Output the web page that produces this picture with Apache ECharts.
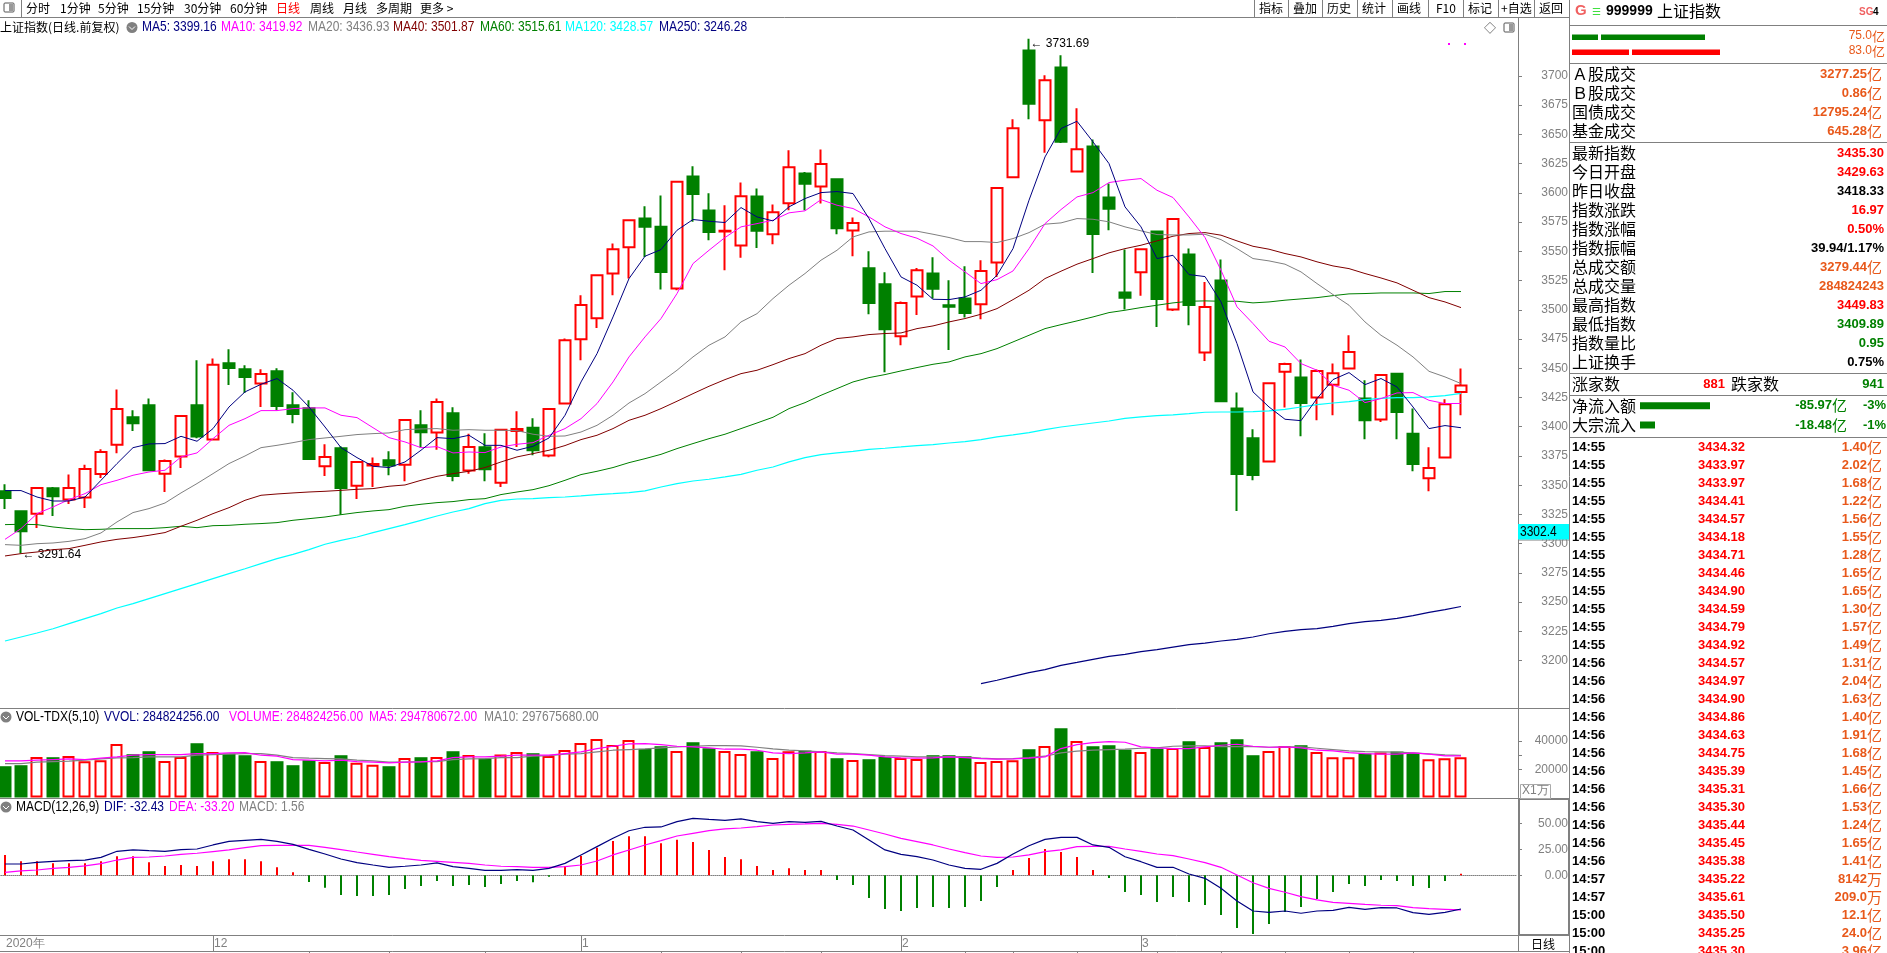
<!DOCTYPE html>
<html>
<head>
<meta charset="utf-8">
<title>上证指数</title>
<style>
html,body{margin:0;padding:0;background:#fff;overflow:hidden}
#chart{width:1887px;height:953px}
</style>
</head>
<body>
<div id="chart"></div>
<script src="https://cdn.jsdelivr.net/npm/echarts@6/dist/echarts.min.js"></script>
<script>
// daily candles
var opens = [3344.8,3327.7,3325.7,3347.4,3337.7,3339.4,3359.6,3384.7,3408.1,3418.4,3359.9,3374.5,3418.4,3389.0,3454.3,3449.1,3436.9,3447.4,3418.4,3415.8,3366.2,3381.6,3349.6,3366.8,3371.3,3367.6,3401.2,3395,3411.5,3362.5,3382.4,3352.2,3396.4,3399.2,3375.3,3419.8,3474.8,3492.8,3531,3553.5,3578,3570.9,3518.1,3613.9,3584.9,3566.9,3554.9,3596.8,3564.6,3591.1,3616.5,3605.4,3611.6,3567.8,3535.5,3521.8,3477.4,3511.3,3531,3503.9,3509.6,3504.7,3540.4,3613.4,3721.7,3662.1,3707.2,3618.2,3639.6,3596,3514.7,3532.1,3566.9,3500.2,3547.2,3463.4,3525,3415.5,3390.1,3370.2,3447.1,3442,3424.9,3436,3449.7,3424.1,3406.1,3445.4,3394.1,3355.9,3373.6,3429.63];
var closes = [3339.1,3310.6,3347.6,3340.5,3347.6,3363.9,3378.4,3415.2,3402.9,3362.8,3370.7,3409.2,3391.6,3452.9,3450.3,3442.6,3445.2,3417.8,3410.9,3372.5,3374.2,3347.6,3369.9,3368.2,3366.8,3405.8,3395.3,3421.2,3357.9,3382.7,3363.6,3397.5,3398.1,3379.9,3415.2,3473.9,3504.2,3529.5,3551.8,3576.6,3570.9,3532.4,3609.4,3599.1,3566.6,3567.5,3597.1,3567.5,3583.4,3621.9,3607.7,3624.7,3569.8,3574.3,3505.9,3483.4,3505.9,3533.8,3517.9,3502.7,3497.3,3533.2,3604.2,3655.3,3676.1,3696.3,3643.6,3637.3,3564.9,3586.3,3510.2,3551.8,3509.3,3577.7,3504.2,3502.4,3421.8,3359.6,3358.8,3437.2,3453.7,3420.3,3447.7,3445.7,3464,3405.5,3444.3,3412.6,3368.2,3364.8,3419.2,3435.3];
var lows = [3329.7,3291.64,3313.4,3323.7,3334,3330.5,3356.2,3377.3,3396.4,3362.2,3344.2,3364.8,3390.1,3388.5,3435.7,3428.9,3416.9,3414.1,3403,3371.9,3357.9,3324.8,3338.2,3348.5,3358.5,3353.4,3382.1,3380.4,3353.4,3359.9,3353.4,3348.5,3382.7,3375.6,3373.9,3419,3456.8,3484.5,3512.4,3526.7,3545.2,3517.3,3516.7,3575.2,3559.5,3533.8,3544.4,3552.9,3556.1,3585.1,3585.1,3590.8,3564.6,3545.8,3496.2,3446.6,3469.7,3495.6,3509.6,3465.7,3493.3,3491.9,3528.1,3613,3663,3634.2,3642.7,3618,3531.5,3568,3500.2,3511.9,3485.3,3499,3486.8,3456.3,3421.2,3327.9,3354.2,3370,3416.4,3391.8,3405.5,3409.8,3449.5,3389.3,3404.1,3389.3,3361.9,3344.8,3373,3409.89];
var highs = [3350.8,3327.7,3348,3348.5,3359.1,3367.6,3380.7,3431.8,3414.1,3424.1,3371.9,3409.5,3456.8,3458.3,3466.3,3452.6,3449.1,3450,3429.5,3422.6,3385,3383.3,3370.7,3373.6,3379,3406,3414.1,3424.1,3416.6,3394.1,3394.4,3398,3413.2,3407.2,3415.5,3475.4,3512.4,3530,3556.6,3577,3588.5,3597.7,3610,3622.8,3599.7,3589.4,3608.8,3603.7,3590,3636.5,3617.8,3637,3612,3578.9,3550.1,3532.1,3507,3535.8,3544.9,3525.3,3537.2,3542.4,3604.5,3663,3731.69,3700.6,3717.7,3672.4,3645.6,3608,3551.5,3552.3,3567,3578,3552.3,3523.8,3542.9,3429.2,3397.8,3437.5,3454.8,3457.4,3448.9,3454,3478.2,3439.7,3444.6,3445.4,3415.5,3382.4,3423.5,3449.83];

// moving averages on the price pane
var ma5 = [3345.4,3345.4,3339.9,3336.5,3336.5,3339.9,3354.2,3368.5,3382.1,3385.3,3385.6,3391.8,3387.6,3398.4,3416.9,3429.8,3436.3,3441.2,3431.2,3416.9,3399.8,3382.1,3373.6,3366.2,3365.1,3369.9,3379.9,3390.7,3389.8,3392.7,3384.1,3384.1,3379.9,3383.3,3390.4,3409.8,3438.3,3462.5,3493.9,3526.7,3545.8,3551.5,3568,3577.2,3575.7,3574.6,3587.4,3579.4,3576,3588,3595.1,3600.2,3601.1,3599.4,3578,3552.3,3528.1,3521,3509,3508.7,3511,3516.7,3529.5,3552.3,3593.7,3630.7,3655,3661.2,3643.6,3625,3588,3570.9,3543.8,3546.6,3530.1,3528.4,3506.7,3471.1,3429.8,3416.9,3406.4,3405.2,3424.1,3440.3,3446.3,3436,3441.2,3434,3416.9,3398.4,3401,3399.16];
var ma10 = [3303.7,3312.9,3325.7,3331.4,3337.7,3342.8,3350.5,3354.2,3358.5,3361.3,3362.8,3374.2,3377.6,3389.8,3401.2,3406.9,3413.8,3413.8,3415.5,3416.1,3416.1,3409.8,3407.8,3399.2,3390.7,3387,3382.1,3383,3377.6,3378.4,3377.9,3382.7,3385,3386.4,3392.7,3398.4,3406.9,3419.8,3438.3,3459.7,3476.8,3492.5,3513.9,3539.5,3550.9,3561.8,3570.9,3573.7,3576.6,3582.9,3584.6,3594.2,3589.4,3586.6,3579.4,3570.9,3565.2,3561.2,3554.6,3542.4,3532.4,3522.4,3525.8,3533.2,3552.3,3573.7,3585.7,3596.5,3600.2,3608.8,3610.8,3612.2,3602.2,3596,3579.4,3561.8,3533.8,3502.5,3488.2,3473.1,3468.2,3454,3448.3,3435.5,3431.2,3420.6,3424.1,3428.9,3429.2,3422.6,3419.8,3419.92];
var ma20 = [3299.2,3298.6,3300,3300.6,3302,3304.3,3309.2,3318.6,3326.6,3330,3334.8,3343.4,3351.4,3359.9,3368.5,3375,3382.1,3384.1,3386.4,3389,3390.4,3391.8,3393.3,3394.1,3394.7,3397.5,3398.1,3398.4,3397,3397.5,3397,3397,3396.7,3393.6,3391.8,3392.1,3395.5,3401.2,3409.8,3420.3,3428.3,3438.3,3448.3,3459.7,3469.7,3476.8,3489.6,3496.7,3509.6,3521,3531,3542.4,3550.9,3562.3,3566.6,3567.2,3567.2,3567.2,3564.6,3561.8,3558.3,3558.3,3557.5,3560.9,3566,3573.2,3574.3,3578,3577.4,3575.2,3570.9,3567.5,3564.3,3564,3564,3564.6,3560,3552.3,3543.8,3541.8,3539,3532.4,3522.4,3513,3503.9,3489.6,3478.2,3469.7,3459.7,3447.4,3442.6,3436.93];
var ma40 = [3289.5,3291.5,3292.9,3294.9,3295.8,3298.6,3301.5,3303.7,3305.2,3307.2,3309.5,3314.9,3320,3325.7,3330.8,3337.1,3341.4,3342.5,3343.4,3344.2,3344.8,3345.6,3346.5,3347.1,3349.1,3350.2,3354.2,3357.6,3359.9,3361.9,3365.1,3369.9,3374.2,3377,3379.9,3383.9,3389,3392.7,3398.4,3405.5,3409.8,3415.5,3421.8,3428.3,3434.6,3440.3,3445.4,3448.3,3453.1,3458.3,3462.5,3469.7,3475.4,3476.8,3478.8,3479.7,3480.2,3483.9,3486.2,3489.6,3492.5,3496.2,3501,3508.7,3516.7,3526.7,3533,3539,3543.8,3548.7,3552.3,3555.2,3558.9,3562.9,3565.2,3566,3563.8,3558.9,3554.3,3551.8,3548.1,3545.2,3541,3537.5,3535.2,3531,3527.2,3523,3516.7,3510.4,3506.7,3501.87];
var ma60 = [3316.3,3316.6,3316.3,3314.3,3312.9,3312,3312.3,3312.9,3312.9,3312.9,3313.7,3314.9,3313.7,3315.4,3315.7,3316.6,3317.2,3318,3320,3321.4,3322.8,3324.8,3326.6,3328,3329.1,3332,3333.7,3335.1,3336,3337.7,3338.5,3342,3344.2,3346.2,3349.6,3354.2,3359.1,3361.9,3365.1,3369.3,3372.7,3376.4,3381.3,3385.6,3389.8,3393.6,3398.4,3403.2,3408.1,3415.5,3420.6,3426.9,3432.6,3438.3,3442,3444.6,3447.7,3450.6,3453.4,3455.4,3459.7,3462.5,3466.8,3472.5,3478.2,3483.9,3487.3,3490.5,3493.9,3497.6,3499.6,3501.9,3503.9,3505.9,3507.3,3507.6,3507.3,3507.3,3505.9,3506.7,3508.2,3509.3,3510.4,3512.1,3513.6,3513.9,3514.4,3514.4,3514.4,3513.9,3515.6,3515.61];
var ma120 = [3216.8,3220.2,3223.6,3227.3,3231.6,3235.9,3240.2,3245,3248.7,3253,3257.3,3261.6,3265.8,3270.1,3274.4,3278.6,3282.9,3287.2,3290.9,3294.9,3299.5,3302.9,3305.7,3309.5,3312.9,3316.3,3320,3323.7,3327.1,3330,3334.2,3337.1,3338.2,3338.5,3339.4,3339.9,3340.8,3342,3342.8,3343.7,3345.1,3348.5,3351.4,3353.6,3355.1,3357.1,3359.3,3362.8,3365.6,3369.9,3373.6,3376.2,3377.6,3379,3380.7,3381.6,3382.7,3383.9,3384.7,3386.1,3387.3,3389,3391.3,3393,3395,3397.5,3399.8,3401.5,3403.2,3404.9,3407.2,3408.4,3409.5,3410.1,3411.2,3412.4,3412.6,3412.6,3412.9,3413.5,3414.9,3416.9,3418.9,3420.3,3421.5,3423.2,3424.3,3424.9,3424.9,3425.5,3426.6,3428.57];
// MA250 only comes into view at candle 61
var ma250Start = 61;
var ma250 = [3180.3,3183.2,3186.6,3189.7,3192.3,3196,3198.5,3201.1,3203.7,3205.4,3207.7,3209.4,3211.6,3213.7,3215,3216.8,3218.2,3220.2,3223,3225,3226.5,3227.3,3229.3,3231.6,3233.3,3234.5,3236.2,3238.5,3241.3,3243.6,3246.28];

// volume, in units of 10000
var volume = [22118,22824,28707,28471,29413,25648,26354,37883,30589,32707,25883,28707,38354,32236,31060,29883,25883,25648,22824,26354,25177,29883,24471,23059,22118,28001,28471,28707,32707,30118,27530,30354,32236,31295,29413,33648,38589,41413,37177,40707,34354,36236,32942,39060,34824,32942,30824,32707,28001,32707,33177,32942,27765,26589,27060,28707,28001,27295,29883,29883,29177,25177,25883,26354,34118,36472,48942,40001,36236,36942,33883,32236,34589,35060,39766,35766,39060,41178,29883,32942,36472,36942,32236,28471,28471,31060,31766,32471,31530,27060,27765,28482];
var volMa5 = [25883,25883,26354,26824,27295,26824,27765,28707,29883,30354,30354,30354,31060,31060,31530,31766,29883,29177,26824,26354,25883,26354,25412,24942,24471,24942,25177,25883,28236,28707,28707,29177,29883,29883,29883,31060,32236,34589,36236,37883,38119,37413,36236,35766,35060,34119,34119,33413,31530,31060,31530,32236,30589,30589,29883,28707,28001,27765,28001,28707,28236,27530,27060,27295,27765,28707,34589,37413,38825,39530,39060,35766,35060,34589,34589,35766,36942,37648,36236,35530,35766,35060,33413,32942,31766,31060,30589,30589,31530,30589,29413,29478];
var volMa10 = [24000,24000,24942,25412,25648,26354,27295,28001,28236,28707,28707,28707,29883,30354,30589,31060,31060,29883,28236,27765,27530,27295,26354,25883,24942,24942,25412,25412,26824,27295,27530,28236,28236,29177,29648,30589,31060,32236,33413,33883,34354,35060,35766,36236,36707,36707,36472,35530,34354,33413,32942,32236,31530,31060,30354,29648,29177,28707,28707,28942,28707,27765,27295,27530,28236,29177,31530,32707,33413,33883,34119,34824,35060,36236,36472,36472,36001,36001,36001,35530,35766,35766,34824,33883,32942,32471,32236,32001,31530,30824,30118,29768];

// MACD pane
var dif = [10.9,10.9,12.5,13.5,14.1,14.7,17.3,23.1,24.4,23.7,23.1,24.7,25.3,29.2,32.7,33.7,34.6,32.7,29.8,25,20.5,15.7,12.2,9.9,7.7,8.7,9.9,11.9,8.3,6.7,4.8,4.8,5.4,4.8,6.7,11.5,19.6,27.6,35.6,42.9,46.2,46.5,51.6,54.8,53.8,52.9,54.2,51.6,50,51.6,51,51.9,47.4,43.6,34,24.4,20.2,17.9,14.7,9.9,6.7,5.8,11.5,20.5,28.5,34.6,36.5,36.5,29.2,26.9,17.9,13.1,7.7,7.7,1.3,-2.9,-12.5,-24.7,-34.3,-35.6,-34.3,-36.5,-34.3,-33.7,-30.8,-32.7,-31.1,-31.4,-35.9,-37.5,-35.6,-32.43];
var dea = [2.9,4.2,5.1,6.7,7.7,9,11.2,14.7,17.3,17.6,18.6,20.2,21.2,22.8,24.4,26.6,28.5,28.8,28.8,28.8,26.9,24.7,22.4,20.2,17.9,16,14.4,13.5,12.5,11.5,9.9,8.7,8.3,7.7,7.7,8.3,9.9,13.8,19.6,24.4,29.2,33.3,37.8,40.4,42.9,44.6,45.5,46.8,48.4,49,49.4,50,49,47.4,43.6,39.7,35.6,32.4,29.2,25.3,21.8,18.6,17.3,17.6,19.6,22.8,24.4,27.6,27.9,27.9,25.3,23.1,20.5,18.9,15.7,12.2,7.7,0.3,-7.1,-12.5,-16.3,-20.5,-23.7,-26,-26.9,-27.9,-28.8,-29.2,-31.1,-32.1,-32.7,-33.2];
var macd = [19.6,13.5,13.5,11.5,11.5,11.5,13.5,18.3,18.3,12.5,9,9.9,9,13.5,15.4,15.4,13.5,7.7,2.9,-6.4,-11.9,-18.9,-19.9,-19.9,-18.9,-13.1,-10.3,-5.4,-10.3,-9.3,-11.2,-8.3,-5.4,-6.7,-1.3,8.7,18.6,26.6,33,37.5,37.5,30.8,34.3,32.1,24.4,17.6,15.4,9,5.1,6.7,5.1,5.1,-4.5,-9.3,-21.8,-32.4,-34.3,-31.4,-30.4,-31.4,-30.4,-24.7,-11.2,5.1,16.7,25.3,22.4,17.6,5.1,-2.6,-16,-18.9,-25.6,-20.8,-25.6,-28.5,-38.1,-50.6,-56.4,-46.8,-35.3,-30.4,-22.8,-16,-8.3,-10.3,-4.5,-5.4,-10.3,-12.2,-5.4,1.56];

// axes
var slotCount = 95;
var monthLabels = {0:'2020年',13:'12',36:'1',56:'2',71:'3'};
var minorTicks = [19,24,30,41,46,51,60,63,67,72,76,80,84,88];
var priceTicks = [3200,3225,3250,3275,3300,3325,3350,3375,3400,3425,3450,3475,3500,3525,3550,3575,3600,3625,3650,3675,3700];
var volLabelTicks = [20000,40000];
var volTicks = [20000,30000,40000];
var macdTicks = [0,25,50];

// side panel
var dealRows = [['Ａ股成交','3277.25','亿'],['Ｂ股成交','0.86','亿'],['国债成交','12795.24','亿'],['基金成交','645.28','亿']];
var quoteRows = [['最新指数','3435.30','#ff0000'],['今日开盘','3429.63','#ff0000'],['昨日收盘','3418.33','#000'],['指数涨跌','16.97','#ff0000'],['指数涨幅','0.50%','#ff0000'],['指数振幅','39.94/1.17%','#000'],['总成交额','3279.44','#e8581a','亿'],['总成交量','284824243','#e8581a'],['最高指数','3449.83','#ff0000'],['最低指数','3409.89','#008000'],['指数量比','0.95','#008000'],['上证换手','0.75%','#000']];
var tradeTimes = ['14:55','14:55','14:55','14:55','14:55','14:55','14:55','14:55','14:55','14:55','14:55','14:55','14:56','14:56','14:56','14:56','14:56','14:56','14:56','14:56','14:56','14:56','14:56','14:56','14:57','14:57','15:00','15:00','15:00'];
var tradePrices = ['3434.32','3433.97','3433.97','3434.41','3434.57','3434.18','3434.71','3434.46','3434.90','3434.59','3434.79','3434.92','3434.57','3434.97','3434.90','3434.86','3434.63','3434.75','3435.39','3435.31','3435.30','3435.44','3435.45','3435.38','3435.22','3435.61','3435.50','3435.25','3435.30'];
var tradeAmounts = ['1.40','2.02','1.68','1.22','1.56','1.55','1.28','1.65','1.65','1.30','1.57','1.49','1.31','2.04','1.63','1.40','1.91','1.68','1.45','1.66','1.53','1.24','1.65','1.41','8142','209.0','12.1','24.0','3.96'];
var tradeUnits = ['亿','亿','亿','亿','亿','亿','亿','亿','亿','亿','亿','亿','亿','亿','亿','亿','亿','亿','亿','亿','亿','亿','亿','亿','万','万','亿','亿','亿'];

var RED = '#ff0000', GREEN = '#008000', GREY = '#808080', NAVY = '#000080', PINK = '#ff00ff', ORANGE = '#e8581a';
var CN = '"Noto Sans CJK SC"', NUM = '"Liberation Sans"';

var myChart = echarts.init(document.getElementById('chart'));

var slots = [];
for (var s = 0; s < slotCount; s++) slots.push(monthLabels[s] || '');
var ohlc = opens.map(function (o, i) { return [o, closes[i], lows[i], highs[i]]; });
var volUp = volume.map(function (v, i) { return closes[i] >= opens[i] ? v : null; });
var volDown = volume.map(function (v, i) { return closes[i] >= opens[i] ? null : v; });
var macdUp = macd.map(function (v) { return v >= 0 ? v : null; });
var macdDown = macd.map(function (v) { return v < 0 ? v : null; });
var ma250Line = opens.map(function (o, i) { return i < ma250Start ? null : ma250[i - ma250Start]; });

function isMonth(i) { return monthLabels[i] !== undefined; }

function lineSeries(name, data, color, width, axis) {
    return {
        name: name, type: 'line', data: data, xAxisIndex: axis, yAxisIndex: axis,
        symbol: 'none', silent: true, z: 5,
        lineStyle: {color: color, width: width}
    };
}

function hiddenX(idx, extra) {
    var a = {
        type: 'category', gridIndex: idx, data: slots, boundaryGap: true,
        axisLabel: {show: false}, axisTick: {show: false}, splitLine: {show: false},
        axisLine: {show: false}
    };
    if (extra) a.axisLine = extra;
    return a;
}

function sideY(idx, min, max, labels, ticks, fmt) {
    return {
        type: 'value', gridIndex: idx, position: 'right', min: min, max: max, offset: 1,
        splitLine: {show: false},
        axisLine: {show: true, onZero: false, lineStyle: {color: GREY}},
        axisTick: {show: true, length: 4, customValues: ticks, lineStyle: {color: GREY}},
        axisLabel: {
            customValues: labels, color: GREY, align: 'right', margin: 50,
            fontFamily: NUM, fontSize: 12, formatter: fmt
        }
    };
}

// page furniture: toolbars, legends, side panel
var g = [];
function txt(x, y, text, color, font, align) {
    g.push({type: 'text', x: x, y: y, silent: true, z: 50, style: {
        text: text, fill: color, font: font || ('12px ' + CN),
        textAlign: align || 'left', textVerticalAlign: 'middle'
    }});
}
// the terminal's half-width digits are tall and narrow, squeeze a larger font
function slim(x, y, text, color) {
    g.push({type: 'text', x: x, y: y, scaleX: 0.857, silent: true, z: 50, style: {
        text: text, fill: color, font: '14px ' + NUM,
        textAlign: 'left', textVerticalAlign: 'middle'
    }});
}
function hline(x1, x2, y, color) {
    g.push({type: 'line', silent: true, z: 40, shape: {x1: x1, y1: y, x2: x2, y2: y}, style: {stroke: color || GREY, lineWidth: 1}});
}
function vline(x, y1, y2) {
    g.push({type: 'line', silent: true, z: 40, shape: {x1: x, y1: y1, x2: x, y2: y2}, style: {stroke: GREY, lineWidth: 1}});
}
function box(x, y, w, h, fill) {
    g.push({type: 'rect', silent: true, z: 45, shape: {x: x, y: y, width: w, height: h}, style: {fill: fill}});
}
function foldIcon(x, y) {
    g.push({type: 'circle', silent: true, z: 45, shape: {cx: x, cy: y, r: 5.5}, style: {fill: GREY}});
    g.push({type: 'polyline', silent: true, z: 46, shape: {points: [[x - 3, y - 1], [x, y + 2], [x + 3, y - 1]]}, style: {stroke: '#fff', fill: null, lineWidth: 1}});
}
function panelIcon(x, y) {
    g.push({type: 'rect', silent: true, z: 45, shape: {x: x, y: y, width: 10, height: 9, r: 1}, style: {fill: '#fff', stroke: '#555', lineWidth: 1}});
    box(x + 5, y + 1, 4, 7, '#999');
}

// frame
hline(0, 1569, 17.5);
hline(0, 1569, 708.5);
hline(0, 1569, 798.5);
hline(0, 1569, 935.5);
hline(0, 1569, 951.5);
vline(1569.5, 0, 953);
vline(1518.5, 935, 952);
g.push({type: 'rect', silent: true, z: 41, shape: {x: 1519, y: 799, width: 50, height: 136}, style: {fill: null, stroke: GREY, lineWidth: 2}});

// toolbars
panelIcon(4, 3);
vline(21.5, 0, 17);
[['分时',26],['1分钟',60],['5分钟',98],['15分钟',137],['30分钟',184],['60分钟',230],['日线',276],['周线',310],['月线',343],['多周期',376],['更多 >',420]].forEach(function (b) {
    txt(b[1], 8, b[0], b[0] === '日线' ? RED : '#000');
});
[['指标',1259],['叠加',1293],['历史',1327],['统计',1362],['画线',1397],['F10',1436],['标记',1468],['+自选',1501],['返回',1539]].forEach(function (b) {
    txt(b[1], 8, b[0], '#000');
});
[1254,1288,1322,1357,1392,1428,1463,1498,1534].forEach(function (x) { vline(x + 0.5, 0, 17); });

// price legend
txt(0, 27.5, '上证指数(日线.前复权)', '#000');
foldIcon(132, 27.5);
[['MA5: 3399.16',142,NAVY],['MA10: 3419.92',221,PINK],['MA20: 3436.93',308,GREY],['MA40: 3501.87',393,'#800000'],['MA60: 3515.61',480,GREEN],['MA120: 3428.57',565,'#00ffff'],['MA250: 3246.28',659,NAVY]].forEach(function (l) {
    slim(l[1], 27.5, l[0], l[2]);
});
txt(1490, 28, '◇', '#555', '12px ' + CN, 'center');
panelIcon(1504, 23);
box(1448, 43, 2, 2, PINK);
box(1464, 43, 2, 2, PINK);

// cursor price tag
box(1518, 524, 51, 15.5, '#00ffff');
hline(1518, 1569, 540);
slim(1520, 532, '3302.4', '#000');

// volume legend
foldIcon(6, 717);
[['VOL-TDX(5,10)',16,'#000'],['VVOL: 284824256.00',104,NAVY],['VOLUME: 284824256.00',229,PINK],['MA5: 294780672.00',369,PINK],['MA10: 297675680.00',484,GREY]].forEach(function (l) {
    slim(l[1], 717, l[0], l[2]);
});
g.push({type: 'rect', silent: true, z: 41, shape: {x: 1520.5, y: 784.5, width: 30, height: 14}, style: {fill: '#fff', stroke: '#aaa', lineWidth: 1}});
txt(1522, 791, 'X1万', GREY, '12px ' + NUM);

// macd legend
foldIcon(6, 807);
[['MACD(12,26,9)',16,'#000'],['DIF: -32.43',104,NAVY],['DEA: -33.20',169,PINK],['MACD: 1.56',239,GREY]].forEach(function (l) {
    slim(l[1], 807, l[0], l[2]);
});
txt(1531, 944, '日线', '#000');

// side panel
var LABEL = '16px ' + CN, BOLD = 'bold 13px ' + NUM;
txt(1575, 11, 'G', '#f06060', 'bold 15px ' + NUM);
txt(1592, 11, '☰', '#40e040', '10px ' + CN);
txt(1606, 11, '999999', '#000', 'bold 14px ' + NUM);
txt(1657, 11, '上证指数', '#000', LABEL);
txt(1859, 12, 'SG', '#f06060', 'bold 10px ' + NUM);
txt(1873, 12, '4', '#000', 'bold 10px ' + NUM);
[25.5, 63.5, 142.5, 373.5, 395.5, 437.5].forEach(function (y) { hline(1570, 1887, y); });

box(1572, 34.5, 26, 5.5, GREEN);
box(1601, 34.5, 104, 5.5, GREEN);
box(1572, 49.5, 57, 5.5, RED);
box(1632, 49.5, 88, 5.5, RED);
txt(1872, 36, '75.0', ORANGE, '12px ' + NUM, 'right');
txt(1872, 51, '83.0', ORANGE, '12px ' + NUM, 'right');
txt(1872, 36, '亿', ORANGE, '13px ' + CN);
txt(1872, 51, '亿', ORANGE, '13px ' + CN);

function money(y, text, unit) {
    txt(1867, y, text, ORANGE, BOLD, 'right');
    txt(1867, y, unit, ORANGE, '15px ' + CN);
}
dealRows.forEach(function (r, i) {
    var y = 74 + 19 * i;
    txt(1572, y, r[0], '#000', LABEL);
    money(y, r[1], r[2]);
});
quoteRows.forEach(function (r, i) {
    var y = 153.3 + 19 * i;
    txt(1572, y, r[0], '#000', LABEL);
    if (r[3]) money(y, r[1], r[3]);
    else txt(1884, y, r[1], r[2], BOLD, 'right');
});
txt(1572, 384, '涨家数', '#000', LABEL);
txt(1725, 384, '881', RED, BOLD, 'right');
txt(1731, 384, '跌家数', '#000', LABEL);
txt(1884, 384, '941', GREEN, BOLD, 'right');
[['净流入额','-85.97','-3%',405.7,70],['大宗流入','-18.48','-1%',425,15]].forEach(function (r) {
    txt(1572, r[3], r[0], '#000', LABEL);
    box(1640, r[3] - 3.5, r[4], 7, GREEN);
    txt(1832, r[3], r[1], GREEN, BOLD, 'right');
    txt(1832, r[3], '亿', GREEN, '15px ' + CN);
    txt(1886, r[3], r[2], GREEN, BOLD, 'right');
});
tradeTimes.forEach(function (t, i) {
    var y = 447.3 + 18 * i;
    txt(1572, y, t, '#000', BOLD);
    txt(1698, y, tradePrices[i], RED, BOLD);
    money(y, tradeAmounts[i], tradeUnits[i]);
});

option = {
    animation: false,
    backgroundColor: '#fff',
    textStyle: {fontFamily: CN},
    graphic: {elements: g},
    grid: [
        {left: -3, top: 18, width: 1520, height: 690, outerBoundsMode: 'none'},
        {left: -3, top: 708.5, width: 1520, height: 89, outerBoundsMode: 'none'},
        {left: -3, top: 799, width: 1520, height: 136, outerBoundsMode: 'none'},
        {left: -3, top: 935, width: 1520, height: 17, outerBoundsMode: 'none'}
    ],
    xAxis: [
        hiddenX(0),
        hiddenX(1),
        hiddenX(2, {show: true, onZero: true, lineStyle: {color: GREY, type: 'dotted'}}),
        {
            type: 'category', gridIndex: 3, data: slots, position: 'top', boundaryGap: true,
            axisLine: {show: false},
            axisTick: {
                show: true, inside: true, length: 3, alignWithLabel: true,
                interval: function (i) { return minorTicks.indexOf(i) >= 0; },
                lineStyle: {color: GREY}
            },
            splitLine: {
                show: true, alignWithLabel: true,
                interval: function (i) { return i > 0 && isMonth(i); },
                lineStyle: {color: GREY}
            },
            axisLabel: {
                show: true, inside: true, interval: function (i) { return isMonth(i); },
                align: 'left', margin: 3, color: GREY, fontFamily: NUM, fontSize: 12, padding: [0, 0, 0, 1]
            }
        }
    ],
    yAxis: [
        sideY(0, 3159.5, 3749.5, priceTicks, priceTicks, function (v) { return String(v); }),
        sideY(1, 0, 62900, volLabelTicks, volTicks, function (v) { return String(v); }),
        sideY(2, -57.4, 73.4, macdTicks, macdTicks, function (v) { return v.toFixed(2); }),
        {type: 'value', gridIndex: 3, show: false}
    ],
    series: [
        {
            name: '上证指数', type: 'candlestick', data: ohlc, xAxisIndex: 0, yAxisIndex: 0,
            barWidth: 11.5, silent: true, z: 3,
            itemStyle: {color: '#fff', color0: GREEN, borderColor: RED, borderColor0: GREEN, borderWidth: 2},
            markPoint: {
                symbol: 'circle', symbolSize: 1, silent: true,
                itemStyle: {color: 'rgba(0,0,0,0)'},
                label: {
                    show: true, position: 'right', color: '#000', fontFamily: NUM, fontSize: 12,
                    distance: 1, formatter: '← {c}'
                },
                data: [
                    {coord: [64, 3731.69], value: '3731.69', label: {offset: [0, 5]}},
                    {coord: [1, 3291.64], value: '3291.64', label: {offset: [0, 1]}}
                ]
            }
        },
        lineSeries('MA120', ma120, '#00ffff', 1.2, 0),
        lineSeries('MA60', ma60, GREEN, 1, 0),
        lineSeries('MA40', ma40, '#800000', 1, 0),
        lineSeries('MA20', ma20, GREY, 1, 0),
        lineSeries('MA10', ma10, PINK, 1, 0),
        lineSeries('MA5', ma5, NAVY, 1, 0),
        lineSeries('MA250', ma250Line, NAVY, 1.2, 0),
        {
            name: 'VOLUME', type: 'bar', data: volUp, xAxisIndex: 1, yAxisIndex: 1,
            barWidth: 12, barGap: '-100%', silent: true,
            itemStyle: {color: '#fff', borderColor: RED, borderWidth: 2}
        },
        {
            name: 'VOLUME-', type: 'bar', data: volDown, xAxisIndex: 1, yAxisIndex: 1,
            barWidth: 13, barGap: '-100%', silent: true,
            itemStyle: {color: GREEN}
        },
        lineSeries('VOL MA10', volMa10, GREY, 1.2, 1),
        lineSeries('VOL MA5', volMa5, PINK, 1.2, 1),
        {
            name: 'MACD', type: 'bar', data: macdUp, xAxisIndex: 2, yAxisIndex: 2,
            barWidth: 2, barGap: '-100%', silent: true, itemStyle: {color: RED}
        },
        {
            name: 'MACD-', type: 'bar', data: macdDown, xAxisIndex: 2, yAxisIndex: 2,
            barWidth: 2, barGap: '-100%', silent: true, itemStyle: {color: GREEN}
        },
        lineSeries('DEA', dea, PINK, 1.2, 2),
        lineSeries('DIF', dif, NAVY, 1.2, 2)
    ]
};
myChart.setOption(option);
</script>
</body>
</html>
